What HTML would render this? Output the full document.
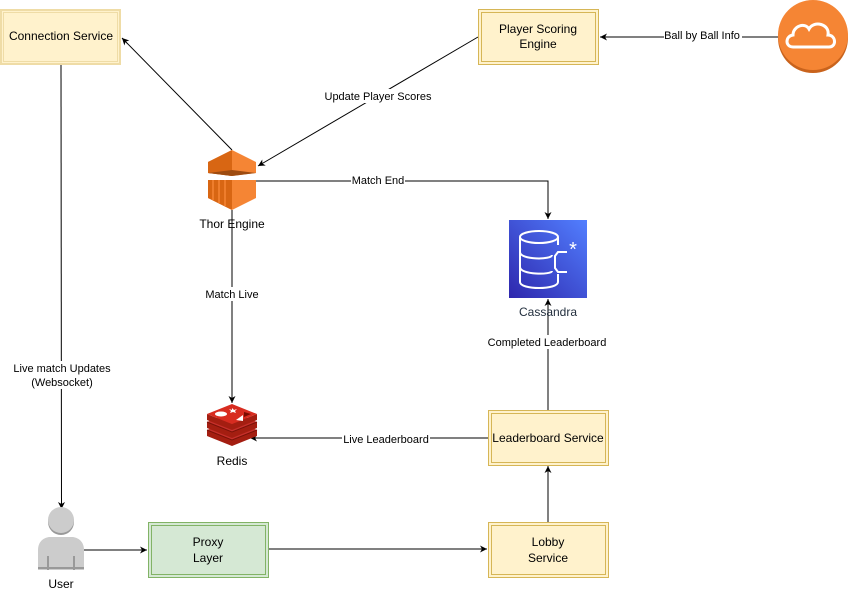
<!DOCTYPE html>
<html><head><style>
html,body{margin:0;padding:0;background:#fff;}
svg{display:block;font-family:"Liberation Sans",Helvetica,sans-serif;}
</style></head><body>
<svg width="848" height="592" viewBox="0 0 848 592" xmlns="http://www.w3.org/2000/svg">
<defs>
<marker id="a" markerWidth="8" markerHeight="8" refX="7" refY="4" orient="auto" markerUnits="userSpaceOnUse">
<path d="M0,0.5 L7,4 L0,7.5 L2,4 Z" fill="#000"/></marker>
<linearGradient id="cg" x1="0" y1="1" x2="1" y2="0"><stop offset="0" stop-color="#2e27ad"/><stop offset="1" stop-color="#527fff"/></linearGradient>
</defs>

<g stroke="#000" stroke-width="1" fill="none">
<path d="M61,64 L61.5,509" marker-end="url(#a)"/>
<path d="M232,150 L122,38" marker-end="url(#a)"/>
<path d="M478,37 L258,166" marker-end="url(#a)"/>
<path d="M778,37 L600,37" marker-end="url(#a)"/>
<path d="M256,181 L548,181 L548,219" marker-end="url(#a)"/>
<path d="M232,210 L232,403" marker-end="url(#a)"/>
<path d="M488,438 L250,438" marker-end="url(#a)"/>
<path d="M548,410 L548,299" marker-end="url(#a)"/>
<path d="M548,522 L548,466" marker-end="url(#a)"/>
<path d="M268,549 L487,549" marker-end="url(#a)"/>
<path d="M84,550 L147,550" marker-end="url(#a)"/>
</g>

<g font-size="11" text-anchor="middle" fill="#000">
<rect x="12" y="361" width="100" height="28" fill="#fff"/>
<text x="62" y="372">Live match Updates</text>
<text x="62" y="386">(Websocket)</text>
<rect x="323" y="89" width="110" height="14" fill="#fff"/>
<text x="378" y="100">Update Player Scores</text>
<rect x="664" y="29" width="78" height="14" fill="#fff"/>
<text x="702" y="39">Ball by Ball Info</text>
<rect x="351" y="173" width="54" height="14" fill="#fff"/>
<text x="378" y="184">Match End</text>
<rect x="204" y="287" width="56" height="14" fill="#fff"/>
<text x="232" y="298">Match Live</text>
<rect x="342" y="432" width="88" height="14" fill="#fff"/>
<text x="386" y="443">Live Leaderboard</text>
<rect x="487" y="335" width="121" height="14" fill="#fff"/>
<text x="547" y="346">Completed Leaderboard</text>
</g>

<g font-size="12" text-anchor="middle" fill="#000">
<rect x="1" y="10" width="119" height="54" fill="#fff2cc" stroke="#efdca6" stroke-width="2"/>
<rect x="3.5" y="12.5" width="114" height="49" fill="none" stroke="#efdca6"/>
<text x="61" y="40">Connection Service</text>

<rect x="478.5" y="9.5" width="120" height="55" fill="#fff2cc" stroke="#d6b656"/>
<rect x="481.5" y="12.5" width="114" height="49" fill="none" stroke="#d6b656"/>
<text x="538" y="33">Player Scoring</text>
<text x="538" y="48">Engine</text>

<rect x="488.5" y="410.5" width="120" height="55" fill="#fff2cc" stroke="#d6b656"/>
<rect x="491.5" y="413.5" width="114" height="49" fill="none" stroke="#d6b656"/>
<text x="548" y="442">Leaderboard Service</text>

<rect x="488.5" y="522.5" width="120" height="55" fill="#fff2cc" stroke="#d6b656"/>
<rect x="491.5" y="525.5" width="114" height="49" fill="none" stroke="#d6b656"/>
<text x="548" y="546">Lobby</text>
<text x="548" y="562">Service</text>

<rect x="148.5" y="522.5" width="120" height="55" fill="#d5e8d4" stroke="#82b366"/>
<rect x="151.5" y="525.5" width="114" height="49" fill="none" stroke="#82b366"/>
<text x="208" y="546">Proxy</text>
<text x="208" y="562">Layer</text>
</g>

<circle cx="813" cy="38" r="35" fill="#c9631c"/>
<circle cx="813" cy="35" r="35" fill="#f58534"/>
<path d="M793,47 C785,47 785,36 793,35 C793,26 805,22 809,29 C814,20 830,24 828,35 C836,35 837,47 829,47 Z" fill="none" stroke="#fff" stroke-width="3"/>

<polygon points="208,162 232,150 256,162 256,173 232,176 208,173" fill="#f58534"/>
<polygon points="208,162 232,150 232,176 208,173" fill="#d86613"/>
<polygon points="208,173 232,170 256,173 232,176" fill="#9d4b10"/>
<polygon points="208,180 256,180 256,198 232,210 208,198" fill="#f58534"/>
<polygon points="208,180 232,180 232,210 208,198" fill="#d86613"/>
<g stroke="#f58534" stroke-width="1.5"><line x1="213" y1="180" x2="213" y2="200"/><line x1="219" y1="180" x2="219" y2="203"/><line x1="225" y1="180" x2="225" y2="206"/></g>
<text x="232" y="228" font-size="12" text-anchor="middle">Thor Engine</text>

<g>
<path d="M207,430 L232,440 L257,430 L257,436 L232,446 L207,436 Z" fill="#a41e11"/>
<path d="M207,430 L232,420 L257,430 L232,440 Z" fill="#c6302b"/>
<path d="M207,430 L232,440 L257,430" fill="none" stroke="#7a1208" stroke-width="1"/>
<path d="M207,422 L232,432 L257,422 L257,428 L232,438 L207,428 Z" fill="#a41e11"/>
<path d="M207,422 L232,412 L257,422 L232,432 Z" fill="#c6302b"/>
<path d="M207,422 L232,432 L257,422" fill="none" stroke="#7a1208" stroke-width="1"/>
<path d="M207,414 L232,424 L257,414 L257,420 L232,430 L207,420 Z" fill="#a41e11"/>
<path d="M207,414 L232,404 L257,414 L232,424 Z" fill="#d82c20"/>
<ellipse cx="221" cy="414" rx="6" ry="2.5" fill="#fff"/>
<polygon points="232,408 234,410 237,409 235,411 236,413 233,412 230,413 231,411 229,409 232,410" fill="#fff"/>
<polygon points="236,420 243,415 243,421" fill="#fff"/>
<polygon points="244,412 251,414 244,417" fill="#7a0c00"/>
</g>
<text x="232" y="465" font-size="12" text-anchor="middle">Redis</text>

<rect x="509" y="220" width="78" height="78" fill="url(#cg)"/>
<g fill="none" stroke="#fff" stroke-width="2">
<ellipse cx="539" cy="237" rx="19" ry="6"/>
<path d="M520,237 L520,282 C520,290 558,290 558,282 L558,274"/>
<path d="M520,252 C520,260 552,260 552,255"/>
<path d="M520,267 C520,275 552,275 552,271"/>
<path d="M558,237 L558,245"/>
<path d="M567,252 L558,252 L555,256 L555,268 L558,272 L567,272"/>
</g>
<text x="573" y="256" font-size="20" fill="#fff" text-anchor="middle">*</text>
<text x="548" y="316" font-size="12" fill="#232f3e" text-anchor="middle">Cassandra</text>

<circle cx="61" cy="522" r="13" fill="#999"/>
<circle cx="61" cy="520" r="13" fill="#ccc"/>
<path d="M38,570 L38,550 C38,540 46,537 50,537 L72,537 C76,537 84,540 84,550 L84,570 Z" fill="#ccc"/>
<path d="M38,568 L84,568" stroke="#999" stroke-width="2"/>
<path d="M48,556 L48,570 M74,556 L74,570" stroke="#999" stroke-width="2"/>
<text x="61" y="588" font-size="12" text-anchor="middle">User</text>
</svg>
</body></html>
